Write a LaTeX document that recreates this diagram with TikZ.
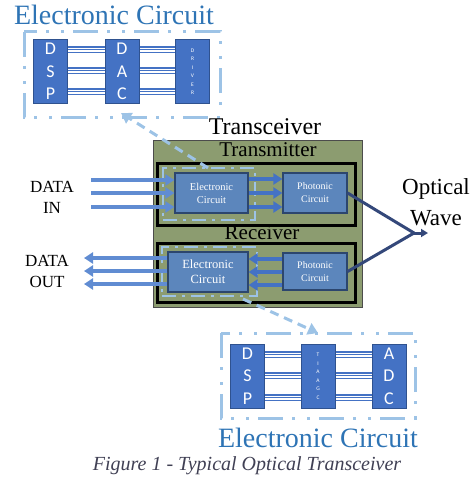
\documentclass[tikz,border=0pt]{standalone}
\usepackage{fontspec}
\setmainfont{Liberation Serif}
\newfontfamily\blockfont{Carlito}
\usetikzlibrary{positioning,calc,arrows.meta}
\definecolor{titleblue}{RGB}{46,116,181}
\definecolor{lightblue}{RGB}{157,195,230}
\definecolor{blkfill}{RGB}{68,114,196}
\definecolor{blkedge}{RGB}{47,82,143}
\definecolor{trxgreen}{RGB}{140,156,112}
\definecolor{circfill}{RGB}{92,134,188}
\definecolor{circedge}{RGB}{44,70,110}
\definecolor{datablue}{RGB}{96,140,210}
\definecolor{opticblue}{RGB}{52,72,122}
\definecolor{capgray}{RGB}{64,64,84}
\newcommand*{\fs}[2]{\fontsize{#1}{#2}\selectfont}
\tikzset{>={Triangle[length=9pt,width=11pt]}}
\tikzset{
  blk/.style={draw=blkedge,fill=blkfill,line width=1pt,minimum width=34pt,
    minimum height=64pt,inner sep=0pt,text=white,align=center,
    font=\blockfont\fs{18}{22.5}},
  tinyblk/.style={blk,font=\blockfont\fs{5.5}{8.5}},
  bus/.style={blkfill,line width=1.3pt},
  zone/.style={draw=lightblue,line width=3pt,
    dash pattern=on 25pt off 9pt on 3pt off 12pt on 3pt off 9pt},
  subzone/.style={draw=lightblue,line width=2.5pt,
    dash pattern=on 14pt off 6pt on 3pt off 6pt},
  circ/.style={draw=circedge,fill=circfill,line width=1.2pt,text=white,
    align=center,inner sep=0pt},
  datarrow/.style={datablue,line width=3.5pt,->},
  innerarrow/.style={blkfill,line width=3.5pt,->},
  zoomarrow/.style={lightblue,line width=3pt,dash pattern=on 9pt off 6pt,
    -{Triangle[length=10pt,width=12pt]}},
  optic/.style={opticblue,line width=3pt},
}

\begin{document}
\begin{tikzpicture}[x=1pt,y=-1pt]
\useasboundingbox (0,0) rectangle (474,503);

% top electronic circuit
\node[text=titleblue,font=\fs{28}{30}] (titleT) at (114,15) {Electronic Circuit};
\draw[zone] (24,32) rectangle (220,117);
\node[blk] (dspT) at (50.5,71.5) {D\\S\\P};
\node[blk] (dacT) at (122,71.5) {D\\A\\C};
\node[tinyblk] (drvT) at (192.5,71.5) {D\\R\\I\\V\\E\\R};
\foreach \y in {47,68,89}
  \foreach \d in {0,2.6,5.2} {
    \draw[bus] (dspT.east |- 0,\y+\d) -- (dacT.west |- 0,\y+\d);
    \draw[bus] (dacT.east |- 0,\y+\d) -- (drvT.west |- 0,\y+\d);
  }

% transceiver
\node[font=\fs{24}{26}] (trxlabel) at (265,127) {Transceiver};
\draw[fill=trxgreen,draw=black!70,line width=1pt] (153,140) rectangle (362,307);
\node[font=\fs{21}{23}] (txlabel) at (268,150) {Transmitter};
\draw[line width=3pt] (157,163) rectangle (355,225);
\node[font=\fs{21}{23}] (rxlabel) at (262,233) {Receiver};
\draw[line width=3pt] (157,243) rectangle (355,302);

\node[subzone,minimum width=92pt,minimum height=52pt] (txzone) at (209,194) {};
\node[subzone,minimum width=95pt,minimum height=49pt] (rxzone) at (209.5,271.5) {};

\node[circ,minimum width=73pt,minimum height=40pt,font=\fs{10.5}{13}]
  (txec) at (211.5,193) {Electronic\\Circuit};
\node[circ,minimum width=64pt,minimum height=40pt,font=\fs{10}{13}]
  (txpc) at (315,193) {Photonic\\Circuit};
\node[circ,minimum width=80pt,minimum height=40pt,font=\fs{12.5}{15}]
  (rxec) at (208,272) {Electronic\\Circuit};
\node[circ,minimum width=64pt,minimum height=37pt,font=\fs{10}{13}]
  (rxpc) at (315,271.5) {Photonic\\Circuit};

\foreach \y in {179,193,207}
  \draw[innerarrow] (txec.east |- 0,\y) -- (txpc.west |- 0,\y);
\foreach \y in {259,272,285}
  \draw[innerarrow] (rxpc.west |- 0,\y) -- (rxec.east |- 0,\y);

% data in / out
\node[align=center,font=\fs{17}{21}] (datain) at (52,197) {DATA\\IN};
\node[align=center,font=\fs{17}{21}] (dataout) at (47,271) {DATA\\OUT};
\foreach \y in {180,193,207} {
  \coordinate (in\y) at (91,\y);
  \draw[datarrow] (in\y) -- (txec.west |- in\y);
}
\foreach \y in {258,271,284} {
  \coordinate (out\y) at (84,\y);
  \draw[datarrow] (rxec.west |- out\y) -- (out\y);
}

% optical wave
\node[align=center,font=\fs{23}{31}] (wave) at (436,202) {Optical\\Wave};
\coordinate (meet) at (414,233);
\coordinate (tip) at (428,233);
\draw[optic] (txpc.east) -- (meet);
\draw[optic] (rxpc.east) -- (meet);
\draw[optic,-{Triangle[length=7pt,width=8pt]}] (meet) -- (tip);

% bottom electronic circuit
\draw[zone] (221,333) rectangle (415,418);
\node[blk] (dspB) at (247.5,376) {D\\S\\P};
\node[tinyblk] (tiaB) at (318,376) {T\\I\\A\\A\\G\\C};
\node[blk] (adcB) at (389,376) {A\\D\\C};
\foreach \y in {352,373,395}
  \foreach \d in {0,2.6,5.2} {
    \draw[bus] (dspB.east |- 0,\y+\d) -- (tiaB.west |- 0,\y+\d);
    \draw[bus] (tiaB.east |- 0,\y+\d) -- (adcB.west |- 0,\y+\d);
  }
\node[text=titleblue,font=\fs{28}{30}] (titleB) at (318,438) {Electronic Circuit};

% zoom arrows
\coordinate (txzoom) at (208,168);
\coordinate (topzoom) at (121,113);
\draw[zoomarrow] (txzoom) -- (topzoom);
\coordinate (rxzoom) at (243,299);
\coordinate (botzoom) at (318,333);
\draw[zoomarrow] (rxzoom) -- (botzoom);

% caption
\node[text=capgray,font=\itshape\fs{20}{22}] (caption) at (247,466)
  {Figure 1 - Typical Optical Transceiver};
\end{tikzpicture}
\end{document}
